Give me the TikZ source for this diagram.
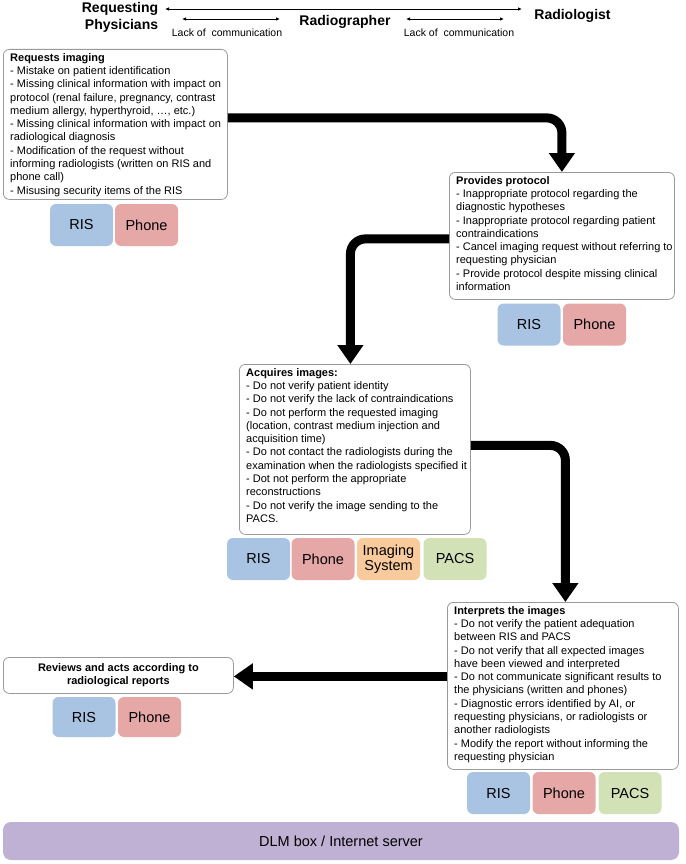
\documentclass[tikz,border=0pt]{standalone}
\usepackage{fontspec}
\setmainfont{Liberation Sans}
\usetikzlibrary{arrows.meta}
\definecolor{risblue}{HTML}{A8C4E2}
\definecolor{phonered}{HTML}{E6A7A7}
\definecolor{imgorange}{HTML}{F9CB9C}
\definecolor{pacsgreen}{HTML}{D2E2B6}
\definecolor{dlmpurple}{HTML}{BFB1D3}
\definecolor{boxgray}{HTML}{9A9A9A}
\begin{document}
\begin{tikzpicture}[x=1pt,y=-1pt,
 errbox/.style={draw=boxgray, line width=0.8pt, rounded corners=6pt, fill=white, anchor=north west, inner sep=0pt},
 errtext/.style={anchor=north west, align=left, inner sep=0pt, font=\fontsize{11}{13.3}\selectfont},
 tag/.style={rounded corners=6pt, minimum width=63pt, minimum height=42pt, inner sep=0pt, font=\fontsize{14.5}{15}\selectfont, align=center},
 bigarrow/.style={line width=9pt, rounded corners=15pt, -{Triangle[width=25pt,length=19pt]}},
 hdr/.style={font=\fontsize{14}{17}\selectfont\bfseries, inner sep=0pt},
 thinarrow/.style={line width=0.9pt, {Latex[length=4pt,width=3.5pt]}-{Latex[length=4pt,width=3.5pt]}},
 lack/.style={font=\fontsize{10.5}{12}\selectfont, inner sep=0pt}
]
\useasboundingbox (0,0) rectangle (685,864);

% header
\node[hdr, align=right] (rp) at (120,17.5) {Requesting\\Physicians};
\node[hdr] (rad) at (572.5,16) {Radiologist};
\node[hdr] (rg) at (345,22) {Radiographer};
\coordinate (la) at (165,9);
\coordinate (lb) at (522,9);
\draw[thinarrow] (la) -- (lb);
\coordinate (sa) at (182,19);
\coordinate (sb) at (280,19);
\coordinate (sc) at (406,19);
\coordinate (sd) at (504,19);
\draw[thinarrow] (sa) -- (sb);
\draw[thinarrow] (sc) -- (sd);
\node[lack] (lk1) at (227,32.5) {Lack of\ \ communication};
\node[lack] (lk2) at (459,32.5) {Lack of\ \ communication};

% boxes
\node[errbox, minimum width=224pt, minimum height=150pt] (b1) at (3,49) {};
\node[errtext] (b1t) at ([xshift=7pt,yshift=-4pt]b1.north west) {\textbf{Requests imaging}\\
- Mistake on patient identification\\
- Missing clinical information with impact on\\
protocol (renal failure, pregnancy, contrast\\
medium allergy, hyperthyroid, \dots, etc.)\\
- Missing clinical information with impact on\\
radiological diagnosis\\
- Modification of the request without\\
informing radiologists (written on RIS and\\
phone call)\\
- Misusing security items of the RIS};

\node[errbox, minimum width=225pt, minimum height=127pt] (b2) at (449,172) {};
\node[errtext] (b2t) at ([xshift=7pt,yshift=-4pt]b2.north west) {\textbf{Provides protocol}\\
- Inappropriate protocol regarding the\\
diagnostic hypotheses\\
- Inappropriate protocol regarding patient\\
contraindications\\
- Cancel imaging request without referring to\\
requesting physician\\
- Provide protocol despite missing clinical\\
information};

\node[errbox, minimum width=231pt, minimum height=170pt] (b3) at (239,364) {};
\node[errtext] (b3t) at ([xshift=7pt,yshift=-4pt]b3.north west) {\textbf{Acquires images:}\\
- Do not verify patient identity\\
- Do not verify the lack of contraindications\\
- Do not perform the requested imaging\\
(location, contrast medium injection and\\
acquisition time)\\
- Do not contact the radiologists during the\\
examination when the radiologists specified it\\
- Dot not perform the appropriate\\
reconstructions\\
- Do not verify the image sending to the\\
PACS.};

\node[errbox, minimum width=231pt, minimum height=167pt] (b4) at (447,602) {};
\node[errtext] (b4t) at ([xshift=7pt,yshift=-4pt]b4.north west) {\textbf{Interprets the images}\\
- Do not verify the patient adequation\\
between RIS and PACS\\
- Do not verify that all expected images\\
have been viewed and interpreted\\
- Do not communicate significant results to\\
the physicians (written and phones)\\
- Diagnostic errors identified by AI, or\\
requesting physicians, or radiologists or\\
another radiologists\\
- Modify the report without informing the\\
requesting physician};

\node[errbox, minimum width=230pt, minimum height=36pt] (b5) at (3,657) {};
\node[align=center, inner sep=0pt, font=\fontsize{11}{13}\selectfont\bfseries] (b5t) at (b5.center) {Reviews and acts according to\\radiological reports};

% tags
\node[tag, fill=risblue] (t1r) at (81.5,225) {RIS};
\node[tag, fill=phonered] (t1p) at (146.5,225) {Phone};
\node[tag, fill=risblue] (t2r) at (529,324.5) {RIS};
\node[tag, fill=phonered] (t2p) at (594.5,324.5) {Phone};
\node[tag, fill=risblue] (t3r) at (258.5,559) {RIS};
\node[tag, fill=phonered] (t3p) at (323,559) {Phone};
\node[tag, fill=imgorange] (t3i) at (388.5,559) {Imaging\\System};
\node[tag, fill=pacsgreen] (t3s) at (455,559) {PACS};
\node[tag, fill=risblue] (t4r) at (498.5,793) {RIS};
\node[tag, fill=phonered] (t4p) at (564,793) {Phone};
\node[tag, fill=pacsgreen] (t4s) at (630,793) {PACS};
\node[tag, fill=risblue, minimum height=40pt] (t5r) at (84,717) {RIS};
\node[tag, fill=phonered, minimum height=40pt] (t5p) at (149.5,717) {Phone};

% server
\node[fill=dlmpurple, rounded corners=8pt, minimum width=676pt, minimum height=38pt, inner sep=0pt, font=\fontsize{14.5}{16}\selectfont] (dlm) at (341,841) {DLM box / Internet server};

% flow arrows
\draw[bigarrow] ([yshift=6.5pt]b1.east) -| (b2.north);
\draw[bigarrow] ([yshift=-3pt]b2.west) -| ([xshift=-4.5pt]b3.north);
\draw[bigarrow] ([yshift=4pt]b3.east) -| ([xshift=2.5pt]b4.north);
\draw[bigarrow] ([yshift=9.5pt]b4.west) -- ([yshift=9.5pt]b4.west -| b5.east);
\end{tikzpicture}
\end{document}
